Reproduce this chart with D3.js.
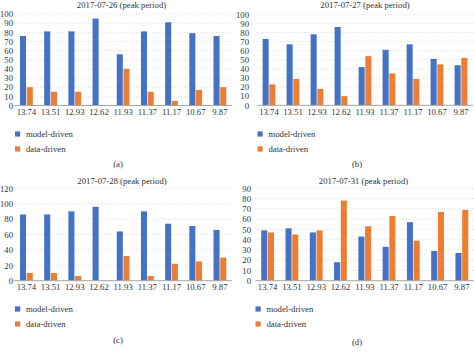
<!DOCTYPE html>
<html><head><meta charset="utf-8">
<script src="https://cdn.jsdelivr.net/npm/d3@7"></script>
<style>
html,body{margin:0;padding:0;background:#fff;}
svg{display:block;}
text{font-family:"Liberation Serif","DejaVu Serif",serif;fill:#333333;}
</style></head>
<body>
<svg id="chart" width="474" height="357"></svg>
<script>
// ---- data ----
const categories = ["13.74","13.51","12.93","12.62","11.93","11.37","11.17","10.67","9.87"];
const seriesNames = ["model-driven","data-driven"];
const titles = ["2017-07-26 (peak period)","2017-07-27 (peak period)","2017-07-28 (peak period)","2017-07-31 (peak period)"];
const panelLabels = ["(a)","(b)","(c)","(d)"];
const modelA = [76,81,81,95,56,81,91,79,76];
const dataA  = [20,15,15,0.6,40,15,5,17,20];
const modelB = [73,67,78,86,42,61,67,51,44];
const dataB  = [23,29,18,10,54,35,29,45,52];
const modelC = [86,86,90,96,64,90,74,71,66];
const dataC  = [10,10,6,0,32,6,22,25,30];
const modelD = [49,51,47,18,43,33,57,29,27];
const dataD  = [47,45,49,78,53,63,39,67,69];
const yTicksA = [0,10,20,30,40,50,60,70,80,90,100];
const yTicksB = [0,10,20,30,40,50,60,70,80,90,100];
const yTicksC = [0,20,40,60,80,100,120];
const yTicksD = [0,10,20,30,40,50,60,70,80,90];

const colors = {"model-driven":"#4472C4","data-driven":"#ED7D31"};

const panels = [
  {model:modelA, data:dataA, ticks:yTicksA, title:titles[0], label:panelLabels[0],
   x0:14.3, x1:232, y0:105.5, yTop:14, labelX:13, titleX:121.5, titleY:7.5, tickY:116,
   legX:15, legY:[134,149], capY:166.5, capX:118},
  {model:modelB, data:dataB, ticks:yTicksB, title:titles[1], label:panelLabels[1],
   x0:257, x1:473, y0:105.3, yTop:14.3, labelX:249, titleX:365, titleY:7.5, tickY:116,
   legX:257.5, legY:[134,149], capY:167, capX:357},
  {model:modelC, data:dataC, ticks:yTicksC, title:titles[2], label:panelLabels[2],
   x0:14.3, x1:232, y0:280.7, yTop:188.3, labelX:13, titleX:122, titleY:184, tickY:291,
   legX:15, legY:[309,324], capY:342.5, capX:118},
  {model:modelD, data:dataD, ticks:yTicksD, title:titles[3], label:panelLabels[3],
   x0:255.5, x1:474, y0:280.7, yTop:188.3, labelX:251, titleX:363.5, titleY:184, tickY:291,
   legX:255.5, legY:[309,324], capY:344.5, capX:357}
];

const svg = d3.select("#chart");
const fs = 8.7;

panels.forEach(p => {
  const g = svg.append("g");
  const maxT = d3.max(p.ticks);
  const y = d3.scaleLinear().domain([0, maxT]).range([p.y0, p.yTop]);
  const x0 = d3.scaleBand().domain(categories).range([p.x0, p.x1]).paddingInner(0).paddingOuter(0);
  const groupW = 12.8;
  const x1 = d3.scaleBand().domain(seriesNames).range([0, groupW]).paddingInner(0.1);

  // gridlines (dotted)
  g.append("g").selectAll("line").data(p.ticks.filter(t => t > 0)).join("line")
    .attr("x1", p.x0).attr("x2", p.x1)
    .attr("y1", d => y(d)).attr("y2", d => y(d))
    .attr("stroke", "#c8c8c8").attr("stroke-width", 0.8)
    .attr("stroke-dasharray", "1,2.2");

  // y tick labels via axis
  const yAxis = d3.axisLeft(y).tickValues(p.ticks).tickSize(0).tickPadding(0).tickFormat(d3.format("d"));
  const ya = g.append("g").attr("transform", `translate(${p.labelX},0)`).call(yAxis);
  ya.select(".domain").remove();
  ya.selectAll("text").attr("font-size", fs).attr("fill", "#333333")
    .attr("font-family", '"Liberation Serif", serif');

  // bars
  const rows = categories.map((c, i) => ({cat: c, vals: [
    {s: "model-driven", v: p.model[i]}, {s: "data-driven", v: p.data[i]}]}));
  const grp = g.append("g").selectAll("g").data(rows).join("g")
    .attr("transform", d => `translate(${x0(d.cat) + (x0.bandwidth() - groupW) / 2},0)`);
  grp.selectAll("rect").data(d => d.vals).join("rect")
    .attr("x", d => x1(d.s)).attr("width", x1.bandwidth())
    .attr("y", d => y(d.v)).attr("height", d => p.y0 - y(d.v))
    .attr("fill", d => colors[d.s]);

  // baseline
  g.append("line").attr("x1", p.x0).attr("x2", p.x1)
    .attr("y1", p.y0).attr("y2", p.y0).attr("stroke", "#a6a6a6").attr("stroke-width", 1);

  // x tick labels via axis
  const xAxis = d3.axisBottom(x0).tickSize(0).tickPadding(0);
  const xa = g.append("g").attr("transform", `translate(0,${p.tickY - 7})`).call(xAxis);
  xa.select(".domain").remove();
  xa.selectAll("text").attr("font-size", fs).attr("fill", "#333333")
    .attr("font-family", '"Liberation Serif", serif').attr("dy", "0.71em");

  // title
  g.append("text").attr("x", p.titleX).attr("y", p.titleY).attr("text-anchor", "middle")
    .attr("font-size", fs).text(p.title);

  // legend
  seriesNames.forEach((s, i) => {
    g.append("rect").attr("x", p.legX).attr("y", p.legY[i] - 2.6).attr("width", 5.2).attr("height", 5.2)
      .attr("fill", colors[s]);
    g.append("text").attr("x", p.legX + 11).attr("y", p.legY[i] + 3).attr("font-size", fs).text(s);
  });

  // panel caption
  g.append("text").attr("x", p.capX).attr("y", p.capY).attr("text-anchor", "middle")
    .attr("font-size", fs).text(p.label);
});
</script>
</body></html>
